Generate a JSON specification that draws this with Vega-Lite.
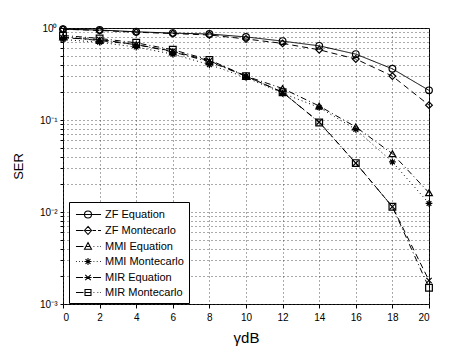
{
  "$schema": "https://vega.github.io/schema/vega-lite/v6.json",
  "width": 366,
  "height": 276,
  "autosize": {"type": "none"},
  "padding": {"left": 63, "top": 28, "right": 45, "bottom": 49},
  "background": "white",
  "config": {
    "font": "Liberation Sans",
    "view": {"stroke": "black", "strokeWidth": 1},
    "axis": {"domain": false, "labelFont": "Liberation Sans", "labelFontSize": 10, "labelColor": "black", "tickColor": "black", "gridColor": "#444", "gridDash": [1, 3], "gridOpacity": 0.9, "titleFont": "Liberation Sans", "titleColor": "black", "titleFontWeight": "normal"}
  },
  "data": {"values": [
    {"g": 0, "s": "ZF Equation", "v": 0.97}, {"g": 2, "s": "ZF Equation", "v": 0.95}, {"g": 4, "s": "ZF Equation", "v": 0.91}, {"g": 6, "s": "ZF Equation", "v": 0.88}, {"g": 8, "s": "ZF Equation", "v": 0.86}, {"g": 10, "s": "ZF Equation", "v": 0.80}, {"g": 12, "s": "ZF Equation", "v": 0.72}, {"g": 14, "s": "ZF Equation", "v": 0.64}, {"g": 16, "s": "ZF Equation", "v": 0.52}, {"g": 18, "s": "ZF Equation", "v": 0.36}, {"g": 20, "s": "ZF Equation", "v": 0.21},
    {"g": 0, "s": "ZF Montecarlo", "v": 0.97}, {"g": 2, "s": "ZF Montecarlo", "v": 0.94}, {"g": 4, "s": "ZF Montecarlo", "v": 0.90}, {"g": 6, "s": "ZF Montecarlo", "v": 0.87}, {"g": 8, "s": "ZF Montecarlo", "v": 0.84}, {"g": 10, "s": "ZF Montecarlo", "v": 0.76}, {"g": 12, "s": "ZF Montecarlo", "v": 0.68}, {"g": 14, "s": "ZF Montecarlo", "v": 0.58}, {"g": 16, "s": "ZF Montecarlo", "v": 0.46}, {"g": 18, "s": "ZF Montecarlo", "v": 0.30}, {"g": 20, "s": "ZF Montecarlo", "v": 0.145},
    {"g": 0, "s": "MMI Equation", "v": 0.80}, {"g": 2, "s": "MMI Equation", "v": 0.73}, {"g": 4, "s": "MMI Equation", "v": 0.66}, {"g": 6, "s": "MMI Equation", "v": 0.55}, {"g": 8, "s": "MMI Equation", "v": 0.43}, {"g": 10, "s": "MMI Equation", "v": 0.30}, {"g": 12, "s": "MMI Equation", "v": 0.22}, {"g": 14, "s": "MMI Equation", "v": 0.142}, {"g": 16, "s": "MMI Equation", "v": 0.084}, {"g": 18, "s": "MMI Equation", "v": 0.043}, {"g": 20, "s": "MMI Equation", "v": 0.0162},
    {"g": 0, "s": "MMI Montecarlo", "v": 0.75}, {"g": 2, "s": "MMI Montecarlo", "v": 0.70}, {"g": 4, "s": "MMI Montecarlo", "v": 0.62}, {"g": 6, "s": "MMI Montecarlo", "v": 0.52}, {"g": 8, "s": "MMI Montecarlo", "v": 0.40}, {"g": 10, "s": "MMI Montecarlo", "v": 0.29}, {"g": 12, "s": "MMI Montecarlo", "v": 0.195}, {"g": 14, "s": "MMI Montecarlo", "v": 0.137}, {"g": 16, "s": "MMI Montecarlo", "v": 0.079}, {"g": 18, "s": "MMI Montecarlo", "v": 0.035}, {"g": 20, "s": "MMI Montecarlo", "v": 0.0124},
    {"g": 0, "s": "MIR Equation", "v": 0.78}, {"g": 2, "s": "MIR Equation", "v": 0.75}, {"g": 4, "s": "MIR Equation", "v": 0.66}, {"g": 6, "s": "MIR Equation", "v": 0.56}, {"g": 8, "s": "MIR Equation", "v": 0.44}, {"g": 10, "s": "MIR Equation", "v": 0.30}, {"g": 12, "s": "MIR Equation", "v": 0.20}, {"g": 14, "s": "MIR Equation", "v": 0.095}, {"g": 16, "s": "MIR Equation", "v": 0.034}, {"g": 18, "s": "MIR Equation", "v": 0.0114}, {"g": 20, "s": "MIR Equation", "v": 0.0018},
    {"g": 0, "s": "MIR Montecarlo", "v": 0.83}, {"g": 2, "s": "MIR Montecarlo", "v": 0.77}, {"g": 4, "s": "MIR Montecarlo", "v": 0.69}, {"g": 6, "s": "MIR Montecarlo", "v": 0.58}, {"g": 8, "s": "MIR Montecarlo", "v": 0.45}, {"g": 10, "s": "MIR Montecarlo", "v": 0.30}, {"g": 12, "s": "MIR Montecarlo", "v": 0.20}, {"g": 14, "s": "MIR Montecarlo", "v": 0.094}, {"g": 16, "s": "MIR Montecarlo", "v": 0.034}, {"g": 18, "s": "MIR Montecarlo", "v": 0.0114}, {"g": 20, "s": "MIR Montecarlo", "v": 0.0015}
  ]},
  "encoding": {
    "x": {"field": "g", "type": "quantitative", "scale": {"domain": [0, 20], "nice": false},
      "axis": {"values": [0, 2, 4, 6, 8, 10, 12, 14, 16, 18, 20], "title": "γdB", "titleFontSize": 15, "titlePadding": 8, "tickSize": 4, "labelPadding": 4}},
    "y": {"field": "v", "type": "quantitative", "scale": {"type": "log", "domain": [0.001, 1], "nice": false},
      "axis": {"values": [0.001, 0.002, 0.003, 0.004, 0.005, 0.006, 0.007, 0.008, 0.009, 0.01, 0.02, 0.03, 0.04, 0.05, 0.06, 0.07, 0.08, 0.09, 0.1, 0.2, 0.3, 0.4, 0.5, 0.6, 0.7, 0.8, 0.9, 1],
        "labelExpr": "datum.value == 1 ? '10⁰' : datum.value == 0.1 ? '10⁻¹' : datum.value == 0.01 ? '10⁻²' : datum.value == 0.001 ? '10⁻³' : ''",
        "title": "SER", "titleFontSize": 13, "titlePadding": 14, "tickSize": 3, "labelPadding": 3}}
  },
  "layer": [
    {
      "mark": {"type": "line", "color": "black", "strokeWidth": 1},
      "encoding": {
        "detail": {"field": "s"},
        "strokeDash": {"field": "s", "type": "nominal", "legend": null,
          "scale": {"domain": ["ZF Equation", "ZF Montecarlo", "MMI Equation", "MMI Montecarlo", "MIR Equation", "MIR Montecarlo"],
            "range": [[1, 0], [6, 4], [6, 3, 1, 3], [1, 3], [6, 4], [6, 3, 1, 3]]}}
      }
    },
    {
      "mark": {"type": "point", "filled": false, "color": "black", "strokeWidth": 1.2, "size": 45, "opacity": 1},
      "encoding": {
        "shape": {"field": "s", "type": "nominal", "legend": null,
          "scale": {"domain": ["ZF Equation", "ZF Montecarlo", "MMI Equation", "MMI Montecarlo", "MIR Equation", "MIR Montecarlo"],
            "range": ["circle", "diamond", "triangle-up", "M-1,0L1,0M0,-1L0,1M-0.7,-0.7L0.7,0.7M-0.7,0.7L0.7,-0.7", "M-0.8,-0.8L0.8,0.8M-0.8,0.8L0.8,-0.8", "square"]}}
      }
    },
    {
      "mark": {"type": "point", "filled": false, "color": "black", "opacity": 0, "size": 10},
      "encoding": {
        "shape": {"field": "s", "type": "nominal",
          "scale": {"domain": ["ZF Equation", "ZF Montecarlo", "MMI Equation", "MMI Montecarlo", "MIR Equation", "MIR Montecarlo"],
            "range": [
              "M-0.85,0L3,0M1.54,0A0.54,0.54 0 1,1 0.46,0A0.54,0.54 0 1,1 1.54,0",
              "M-0.85,0L0.31,0M0.62,0L1.38,0M1.69,0L2.23,0M2.54,0L3,0M1,-0.62L1.54,0L1,0.62L0.46,0Z",
              "M-0.85,0L0.31,0M0.62,0L1.38,0M1.85,0L1.97,0M2.46,0L2.58,0M2.9,0L3,0M1,-0.6L1.54,0.42L0.46,0.42Z",
              "M-0.85,0L-0.73,0M-0.38,0L-0.26,0M0.08,0L0.2,0M1.85,0L1.97,0M2.35,0L2.47,0M2.85,0L2.97,0M0.46,0L1.54,0M1,-0.54L1,0.54M0.62,-0.38L1.38,0.38M0.62,0.38L1.38,-0.38",
              "M-0.85,0L0.23,0M0.46,0L1.54,0M1.77,0L3,0M0.58,-0.42L1.42,0.42M0.58,0.42L1.42,-0.42",
              "M-0.85,0L0.31,0M0.54,0L1.46,0M1.85,0L1.97,0M2.46,0L2.58,0M2.9,0L3,0M0.54,-0.46L1.46,-0.46L1.46,0.46L0.54,0.46Z"
            ]},
          "legend": {"title": null, "orient": "none", "legendX": 6, "legendY": 174, "symbolSize": 169, "symbolOpacity": 1, "symbolStrokeColor": "black", "symbolStrokeWidth": 1.1, "symbolFillColor": "transparent",
            "labelFont": "Liberation Sans", "labelFontSize": 11, "labelColor": "black", "labelOffset": 16, "rowPadding": 2, "padding": 5, "strokeColor": "black", "fillColor": "white"}
        }
      }
    }
  ],
  "resolve": {"scale": {"shape": "independent"}, "legend": {"shape": "independent"}}
}
